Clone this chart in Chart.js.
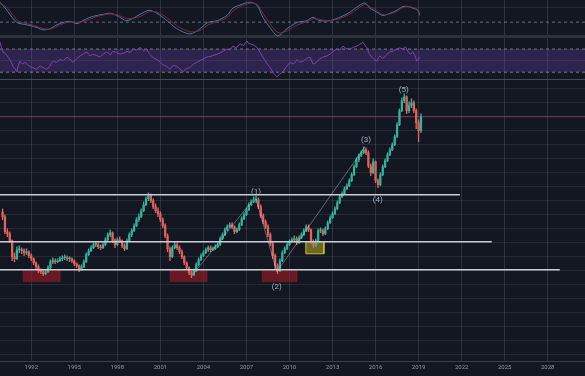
<!DOCTYPE html>
<html>
<head>
<meta charset="utf-8">
<script src="https://cdn.jsdelivr.net/npm/chart.js@4.4.1/dist/chart.umd.min.js"></script>
<style>
  html, body { margin: 0; padding: 0; background: #131722; }
  canvas { display: block; }
</style>
</head>
<body>
<canvas id="vagues" width="585" height="376"></canvas>
<script>
/* bougies de deux mois, 1990 -> 2019, oscillateurs au-dessus */

const firstYear = 1990;
const candleStep = 1 / 6;

const candleOpen = [
  1500,1450,1300,1280,1210,1050,1030,1120,1120,1110,
  1090,1100,1060,1030,990,950,910,900,880,900,
  940,1000,1010,1000,1010,1030,1040,1040,1030,1030,
  1010,980,960,920,950,1000,1070,1110,1140,1170,
  1170,1150,1140,1170,1220,1270,1290,1210,1170,1220,
  1210,1160,1130,1210,1270,1310,1360,1420,1450,1510,
  1570,1630,1660,1610,1550,1510,1480,1420,1360,1260,
  1130,1050,1140,1170,1140,1100,1050,990,940,890,
  870,910,970,1020,1060,1090,1120,1140,1120,1130,
  1150,1170,1230,1270,1320,1350,1370,1350,1300,1320,
  1370,1430,1470,1520,1570,1600,1620,1620,1550,1460,
  1400,1350,1270,1180,1060,960,910,1010,1090,1130,
  1170,1200,1220,1230,1190,1240,1270,1310,1350,1320,
  1200,1160,1210,1310,1310,1280,1330,1390,1440,1480,
  1530,1590,1650,1680,1730,1760,1810,1870,1950,2020,
  2060,2090,2120,2090,1960,1890,2000,1810,1770,1870,
  1950,2010,2070,2120,2170,2250,2370,2510,2610,2650,
  2510,2560,2590,2510,2390,2310
];
const candleHigh = [
  1530,1470,1330,1300,1220,1090,1150,1160,1140,1130,
  1130,1110,1080,1040,1000,970,930,920,920,960,
  1020,1040,1030,1030,1050,1060,1070,1060,1050,1040,
  1020,990,970,970,1020,1090,1130,1160,1190,1200,
  1190,1170,1190,1240,1290,1320,1300,1230,1240,1250,
  1220,1180,1230,1290,1330,1380,1440,1480,1530,1600,
  1650,1690,1680,1630,1580,1540,1500,1440,1380,1280,
  1150,1160,1200,1190,1160,1120,1060,1000,950,910,
  930,990,1040,1080,1110,1140,1160,1160,1150,1170,
  1190,1250,1290,1340,1370,1390,1390,1360,1340,1390,
  1450,1490,1540,1590,1620,1650,1660,1640,1570,1480,
  1420,1370,1290,1200,1080,980,1030,1110,1150,1190,
  1220,1240,1260,1250,1260,1290,1330,1370,1370,1330,
  1220,1230,1330,1340,1330,1350,1410,1460,1500,1550,
  1610,1670,1700,1750,1780,1830,1890,1970,2040,2080,
  2110,2150,2140,2110,1980,2030,2010,1830,1890,1970,
  2030,2090,2140,2190,2270,2390,2530,2640,2680,2660,
  2600,2630,2610,2530,2420,2480
];
const candleLow = [
  1420,1280,1250,1190,1010,1000,1020,1090,1080,1060,
  1070,1040,1010,970,930,890,880,860,870,890,
  930,980,980,990,1000,1010,1020,1010,1000,990,
  960,940,900,910,940,990,1060,1100,1130,1150,
  1130,1120,1130,1160,1210,1250,1190,1140,1160,1190,
  1140,1110,1120,1200,1250,1300,1350,1400,1440,1500,
  1560,1610,1590,1530,1490,1450,1400,1340,1240,1100,
  1010,1040,1130,1120,1080,1030,970,920,870,840,
  860,900,960,1010,1050,1080,1100,1100,1110,1120,
  1140,1160,1220,1260,1310,1340,1330,1280,1290,1310,
  1360,1420,1460,1510,1560,1590,1590,1530,1440,1380,
  1330,1250,1160,1030,930,880,900,1000,1080,1120,
  1160,1190,1210,1170,1180,1230,1260,1300,1300,1180,
  1140,1150,1200,1290,1260,1270,1320,1380,1430,1470,
  1520,1580,1640,1670,1720,1750,1800,1860,1940,2000,
  2050,2080,2070,1940,1860,1880,1790,1740,1760,1860,
  1940,2000,2060,2110,2160,2240,2360,2500,2590,2480,
  2490,2540,2490,2330,2200,2290
];
const candleClose = [
  1450,1300,1280,1210,1050,1030,1120,1120,1110,1090,
  1100,1060,1030,990,950,910,900,880,900,940,
  1000,1010,1000,1010,1030,1040,1040,1030,1030,1010,
  980,960,920,950,1000,1070,1110,1140,1170,1170,
  1150,1140,1170,1220,1270,1290,1210,1170,1220,1210,
  1160,1130,1210,1270,1310,1360,1420,1450,1510,1570,
  1630,1660,1610,1550,1510,1480,1420,1360,1260,1130,
  1050,1140,1170,1140,1100,1050,990,940,890,870,
  910,970,1020,1060,1090,1120,1140,1120,1130,1150,
  1170,1230,1270,1320,1350,1370,1350,1300,1320,1370,
  1430,1470,1520,1570,1600,1620,1620,1550,1460,1400,
  1350,1270,1180,1060,960,910,1010,1090,1130,1170,
  1200,1220,1230,1190,1240,1270,1310,1350,1320,1200,
  1160,1210,1310,1310,1280,1330,1390,1440,1480,1530,
  1590,1650,1680,1730,1760,1810,1870,1950,2020,2060,
  2090,2120,2090,1960,1890,2000,1810,1770,1870,1950,
  2010,2070,2120,2170,2250,2370,2510,2610,2650,2510,
  2560,2590,2510,2390,2310,2450
];

// stochastique (panneau du haut)
const stochYears = [1989.82,1990.31,1990.66,1991.0,1991.21,1991.91,1992.4,1992.82,1993.3,1993.79,
  1994.21,1994.7,1995.19,1995.6,1996.09,1996.58,1997.0,1997.49,1997.97,1998.67,
  1999.58,2000.2,2000.76,2001.46,2002.15,2003.06,2003.76,2004.31,2004.94,2005.64,
  2006.06,2006.54,2007.24,2007.73,2008.15,2008.64,2009.19,2009.82,2010.52,2011.21,
  2011.63,2012.12,2012.82,2013.51,2014.21,2014.7,2015.26,2015.6,2016.09,2016.51,
  2017.0,2017.49,2017.83,2018.18,2018.6,2018.95,2019.09];
const stochK = [94,72,53,39,36,31,25,19,22,33,39,42,36,44,53,58,61,64,58,44,
  61,72,64,44,22,8,22,39,44,58,78,86,94,86,53,25,3,22,39,44,
  53,44,44,53,67,81,92,78,67,58,64,72,81,83,78,72,58];
const stochD = [90,80,62,46,40,34,28,23,21,28,36,40,39,41,48,55,59,62,60,50,
  55,68,67,52,30,14,17,32,41,52,70,82,91,89,64,36,12,16,32,41,
  49,47,44,50,62,75,88,82,71,61,62,69,78,82,80,74,63];
const stochLevel = 40;

// RSI (panneau du milieu)
const rsiYears = [
  1989.82,1989.93,1990.03,1990.2,1990.38,1990.55,1990.73,1990.86,1991.0,1991.1,
  1991.21,1991.38,1991.56,1991.73,1991.91,1992.15,1992.4,1992.6,1992.82,1993.06,
  1993.3,1993.4,1993.51,1993.75,1994.0,1994.25,1994.49,1994.7,1994.91,1995.15,
  1995.4,1995.65,1995.88,1996.1,1996.3,1996.55,1996.79,1997.05,1997.28,1997.5,
  1997.69,1997.95,1998.18,1998.45,1998.67,1998.9,1999.09,1999.35,1999.58,1999.82,
  2000.06,2000.17,2000.27,2000.5,2000.76,2001.0,2001.18,2001.45,2001.67,2001.9,
  2002.15,2002.35,2002.57,2002.8,2003.06,2003.3,2003.55,2003.9,2004.25,2004.6,
  2004.94,2005.3,2005.64,2005.85,2006.06,2006.3,2006.54,2006.8,2007.03,2007.13,
  2007.24,2007.5,2007.73,2007.95,2008.15,2008.4,2008.64,2008.9,2009.12,2009.33,
  2009.54,2009.8,2010.03,2010.3,2010.52,2010.72,2010.94,2011.2,2011.42,2011.65,
  2011.91,2012.1,2012.33,2012.6,2012.82,2013.05,2013.3,2013.5,2013.72,2013.95,
  2014.21,2014.45,2014.7,2014.9,2015.12,2015.26,2015.4,2015.55,2015.74,2015.9,
  2016.09,2016.2,2016.3,2016.48,2016.65,2016.82,2017.0,2017.25,2017.49,2017.7,
  2017.9,2018.08,2018.25,2018.42,2018.6,2018.75,2018.88,2019.0,2019.09
];
const rsiValues = [
  82,72,65,62,56,50,40,36,31,42,
  49,44,47,43,40,37,35,41,38,35,
  40,46,49,47,52,50,56,52,47,53,
  58,62,65,58,61,59,56,62,65,60,
  66,64,61,63,66,64,70,68,73,67,
  70,64,61,55,52,47,43,40,35,42,
  40,36,31,36,38,44,47,52,56,58,
  61,65,70,68,75,72,79,76,84,80,
  79,77,73,64,56,46,38,28,22,27,
  31,40,47,44,52,47,49,54,56,44,
  47,53,56,58,61,66,70,68,75,71,
  70,73,75,78,82,76,73,62,56,52,
  49,55,58,54,56,62,65,67,70,72,
  70,74,66,61,65,58,49,53,56
];
const rsiUpper = 70;
const rsiLower = 30;

// dessins sur le prix
const supportLevels = [1670, 1200, 920];
const supportEnds = [2021.88, 2024.1, 2028.84];
const resistance = 2450;

const boxStart = [1991.42, 2001.67, 2008.08];
const boxEnd = [1994.0, 2004.25, 2010.52];
const boxTop = 910;
const boxBottom = 800;
const yellowBox = { start: 2011.14, end: 2012.4, top: 1200, bottom: 1080 };

const trendFrom = [[2003.2, 860], [2007.66, 1630], [2009.12, 900]];
const trendTo = [[2007.24, 1580], [2009.12, 900], [2015.26, 2150]];

const waveText = ['(1)', '(2)', '(3)', '(4)', '(5)'];
const waveYear = [2007.66, 2009.12, 2015.33, 2016.16, 2017.97];
const waveValue = [1700, 750, 2220, 1620, 2720];

const tickYears = [1992, 1995, 1998, 2001, 2004, 2007, 2010, 2013, 2016, 2019, 2022, 2025, 2028];
const priceGrid = [70,210,350,490,630,770,910,1050,1190,1330,1470,1610,1750,1890,2030,2170,2310,2450,2590,2730];

const xMin = 1989.82;
const xMax = 2030.6;

(function () {
  'use strict';

  const up = '#36b29b';
  const down = '#e3625d';
  const gridColor = 'rgba(130, 136, 150, 0.17)';

  const candleYears = candleClose.map(function (_, i) { return firstYear + i * candleStep; });

  function candleColor(ctx) {
    const i = ctx.dataIndex;
    return candleClose[i] >= candleOpen[i] ? up : down;
  }

  function pts(xs, ys) {
    return xs.map(function (x, i) { return { x: x, y: ys[i] }; });
  }

  function flat(v, x0, x1) {
    return [{ x: x0, y: v }, { x: x1, y: v }];
  }

  function lineDs(data, axis, color, extra) {
    return Object.assign({
      type: 'line',
      data: data,
      yAxisID: axis,
      borderColor: color,
      borderWidth: 1,
      pointRadius: 0,
      fill: false,
      tension: 0,
      order: 1
    }, extra || {});
  }

  const datasets = [];

  // boîtes rouges sous les creux
  boxStart.forEach(function (s, i) {
    datasets.push(lineDs([
      { x: s, y: boxTop }, { x: boxEnd[i], y: boxTop },
      { x: boxEnd[i], y: boxBottom }, { x: s, y: boxBottom }, { x: s, y: boxTop }
    ], 'yPrice', 'rgba(150, 30, 40, 0.6)', {
      fill: 'shape', backgroundColor: 'rgba(150, 28, 38, 0.65)', borderWidth: 0.5, order: 9
    }));
  });
  datasets.push(lineDs([
    { x: yellowBox.start, y: yellowBox.top }, { x: yellowBox.end, y: yellowBox.top },
    { x: yellowBox.end, y: yellowBox.bottom }, { x: yellowBox.start, y: yellowBox.bottom },
    { x: yellowBox.start, y: yellowBox.top }
  ], 'yPrice', '#c9bd36', {
    fill: 'shape', backgroundColor: 'rgba(170, 160, 30, 0.6)', borderWidth: 1, order: 9
  }));

  // bougies : mèches puis corps
  datasets.push({
    type: 'bar',
    data: candleYears.map(function (t, i) { return { x: t, y: [candleLow[i], candleHigh[i]] }; }),
    yAxisID: 'yPrice',
    backgroundColor: candleColor,
    barThickness: 0.7,
    grouped: false,
    order: 4
  });
  datasets.push({
    type: 'bar',
    data: candleYears.map(function (t, i) { return { x: t, y: [candleOpen[i], candleClose[i]] }; }),
    yAxisID: 'yPrice',
    backgroundColor: candleColor,
    barThickness: 1.6,
    minBarLength: 1,
    grouped: false,
    order: 3
  });

  // niveaux horizontaux
  datasets.push(lineDs(flat(resistance, xMin, xMax), 'yPrice', 'rgba(190, 80, 110, 0.55)', { order: 8 }));
  supportLevels.forEach(function (v, i) {
    datasets.push(lineDs(flat(v, xMin, supportEnds[i]), 'yPrice', '#c9ccd4', { borderWidth: 1.4, order: 0 }));
  });

  // lignes de tendance
  trendFrom.forEach(function (a, i) {
    const b = trendTo[i];
    datasets.push(lineDs([{ x: a[0], y: a[1] }, { x: b[0], y: b[1] }], 'yPrice',
      'rgba(195, 205, 220, 0.55)', { borderWidth: 0.8, order: 2 }));
  });

  // stochastique
  datasets.push(lineDs(flat(stochLevel, xMin, xMax), 'yStoch', 'rgba(190, 195, 205, 0.5)', { borderDash: [3, 3], order: 6 }));
  datasets.push(lineDs(pts(stochYears, stochD), 'yStoch', '#7c2745', { tension: 0.3 }));
  datasets.push(lineDs(pts(stochYears, stochK), 'yStoch', '#437e9a', { tension: 0.3 }));

  // RSI
  datasets.push(lineDs(flat(rsiUpper, xMin, xMax), 'yRsi', 'rgba(190, 195, 205, 0.55)', {
    borderDash: [3, 3], fill: { value: rsiLower }, backgroundColor: 'rgba(118, 70, 190, 0.28)', order: 7
  }));
  datasets.push(lineDs(flat(rsiLower, xMin, xMax), 'yRsi', 'rgba(190, 195, 205, 0.55)', { borderDash: [3, 3], order: 6 }));
  datasets.push(lineDs(pts(rsiYears, rsiValues), 'yRsi', '#7c44b0'));

  const waveLabels = {
    id: 'waveLabels',
    afterDatasetsDraw: function (chart) {
      const ctx = chart.ctx;
      const sx = chart.scales.x;
      const sy = chart.scales.yPrice;
      ctx.save();
      ctx.font = '8px Roboto, sans-serif';
      ctx.fillStyle = '#a3b4c9';
      ctx.textAlign = 'center';
      ctx.textBaseline = 'middle';
      waveText.forEach(function (t, i) {
        ctx.fillText(t, sx.getPixelForValue(waveYear[i]), sy.getPixelForValue(waveValue[i]));
      });
      ctx.restore();
    }
  };

  function hiddenY(extra) {
    return Object.assign({
      type: 'linear',
      position: 'right',
      stack: 'panes',
      ticks: { display: false },
      border: { display: false }
    }, extra);
  }

  new Chart(document.getElementById('vagues'), {
    type: 'bar',
    data: { datasets: datasets },
    plugins: [waveLabels],
    options: {
      responsive: false,
      animation: false,
      devicePixelRatio: 1,
      layout: { padding: { left: 0, right: 0, top: 0, bottom: 3 } },
      plugins: { legend: { display: false }, tooltip: { enabled: false } },
      scales: {
        x: {
          type: 'linear',
          min: xMin,
          max: xMax,
          offset: false,
          grid: { offset: false, color: 'rgba(130, 136, 150, 0.24)', drawTicks: false },
          border: { color: '#3a3e49' },
          ticks: {
            color: '#9598a1',
            font: { size: 6, family: 'Roboto, sans-serif' },
            padding: 2,
            autoSkip: false,
            maxRotation: 0,
            callback: function (v) { return String(v); }
          },
          afterBuildTicks: function (s) { s.ticks = tickYears.map(function (v) { return { value: v }; }); }
        },
        yStoch: hiddenY({
          stackWeight: 37,
          min: 0,
          max: 100,
          grid: {
            drawTicks: false,
            color: function (c) { return c.tick.value === 0 ? '#2e323d' : gridColor; },
            lineWidth: function (c) { return c.tick.value === 0 ? 3 : 1; }
          },
          afterBuildTicks: function (s) { s.ticks = [{ value: 0 }, { value: 80 }]; }
        }),
        yRsi: hiddenY({
          stackWeight: 43,
          min: 17,
          max: 91,
          grid: {
            drawTicks: false,
            color: function (c) { return c.tick.value === 17 ? '#474b57' : gridColor; },
            lineWidth: 1
          },
          afterBuildTicks: function (s) { s.ticks = [{ value: 17 }, { value: 50 }]; }
        }),
        yPrice: hiddenY({
          stackWeight: 283,
          min: 0,
          max: 2820,
          grid: { drawTicks: false, color: gridColor },
          afterBuildTicks: function (s) { s.ticks = priceGrid.map(function (v) { return { value: v }; }); }
        })
      }
    }
  });
})();
</script>
</body>
</html>
